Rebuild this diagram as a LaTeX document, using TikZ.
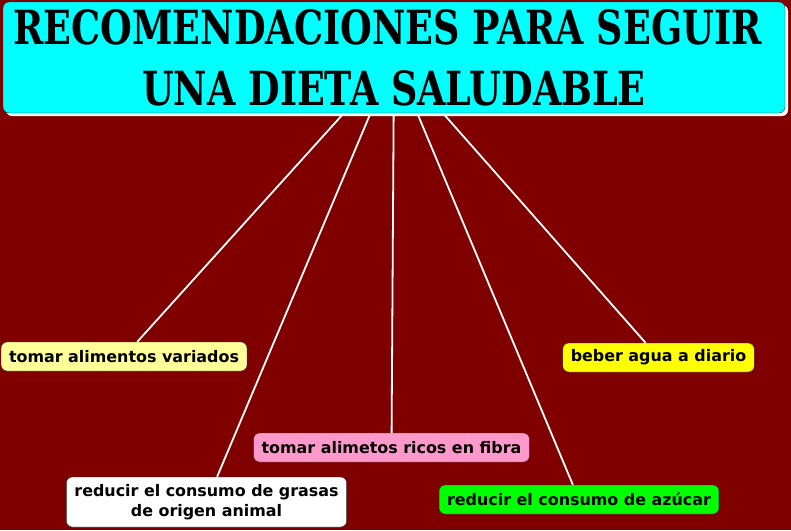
\documentclass[tikz,border=0pt]{standalone}
\usepackage{fontspec}
\setmainfont{DejaVu Sans}
\newfontfamily\titlefont[FakeStretch=0.777]{DejaVu Serif}
\usetikzlibrary{shadows}
\definecolor{bgred}{HTML}{800000}
\definecolor{titlecyan}{HTML}{00FFFF}
\definecolor{paleyellow}{HTML}{FFFF99}
\definecolor{rosepink}{HTML}{FF99CC}
\definecolor{brightgreen}{HTML}{00FF00}
\definecolor{brightyellow}{HTML}{FFFF00}

\begin{document}
\begin{tikzpicture}[x=1pt,y=-1pt,
	titlebox/.style={draw=black!80,fill=titlecyan,rounded corners=6pt,minimum width=782pt,minimum height=111pt,
		drop shadow={fill=white,opacity=1,shadow xshift=3pt,shadow yshift=-3pt},align=center,
		font=\titlefont\bfseries\fontsize{47}{61}\selectfont},
	tipbox/.style={draw=black!80,rounded corners=6pt,inner xsep=8pt,minimum height=29pt,align=center,
		font=\bfseries\fontsize{15.9}{20.5}\selectfont},
	link/.style={white,line width=1.8pt}]
		\useasboundingbox[fill=bgred] (0,0) rectangle (791,530);
		\node[titlebox] (title) at (394,57.5) {RECOMENDACIONES PARA SEGUIR\hspace*{13pt}\\UNA DIETA SALUDABLE};
		\node[tipbox,fill=paleyellow] (variados) at (124,356.5) {tomar alimentos variados};
		\node[tipbox,fill=white,minimum height=50pt] (grasas) at (206.5,502) {reducir el consumo de grasas\\de origen animal};
		\node[tipbox,fill=rosepink] (fibra) at (391.5,447.5) {tomar alimetos ricos en fibra};
		\node[tipbox,fill=brightgreen] (azucar) at (579,499.5) {reducir el consumo de azúcar};
		\node[tipbox,fill=brightyellow] (agua) at (658.5,357.5) {beber agua a diario};
		\draw[link] (title) -- (variados);
		\draw[link] (title) -- (grasas);
		\draw[link] (title) -- (fibra);
		\draw[link] (title) -- (azucar);
		\draw[link] (title) -- (agua);
	\end{tikzpicture}
\end{document}
